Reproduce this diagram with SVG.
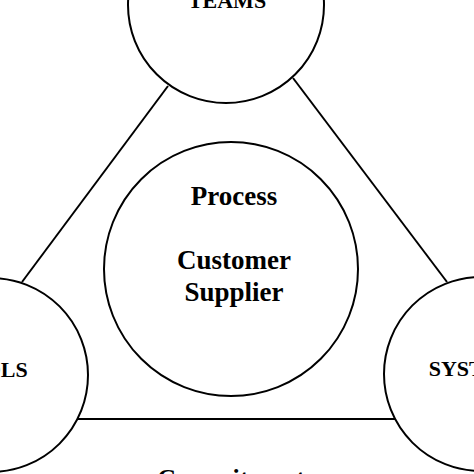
<svg xmlns="http://www.w3.org/2000/svg" width="474" height="474" viewBox="0 0 474 474">
<style>
.c{fill:#fff;stroke:#000;stroke-width:2}
.l{stroke:#000;stroke-width:2;fill:none}
.t{font-family:"Liberation Serif","Times New Roman",serif;font-weight:bold;fill:#000;text-anchor:middle}
</style>
<rect width="474" height="474" fill="#fff"/>
<g id="connectors">
<line class="l" x1="168" y1="86" x2="22" y2="282"/>
<line class="l" x1="293" y1="78" x2="447" y2="282"/>
<line class="l" x1="77" y1="419" x2="395" y2="419"/>
</g>
<g id="teams">
<circle class="c" cx="226" cy="5" r="98"/>
<text class="t" x="227" y="8" font-size="22">TEAMS</text>
</g>
<g id="tools">
<circle class="c" cx="-9" cy="375" r="97"/>
<text class="t" x="-10" y="377" font-size="22">TOOLS</text>
</g>
<g id="systems">
<circle class="c" cx="481" cy="374" r="97"/>
<text class="t" x="480" y="376" font-size="22">SYSTEMS</text>
</g>
<g id="process">
<circle class="c" cx="231" cy="269" r="127"/>
<text class="t" x="234" y="205" font-size="27">Process</text>
<text class="t" x="234" y="269" font-size="27">Customer</text>
<text class="t" x="234" y="301" font-size="27">Supplier</text>
</g>
<g id="commitment">
<text class="t" x="231" y="487" font-size="26">Commitment</text>
</g>
</svg>
